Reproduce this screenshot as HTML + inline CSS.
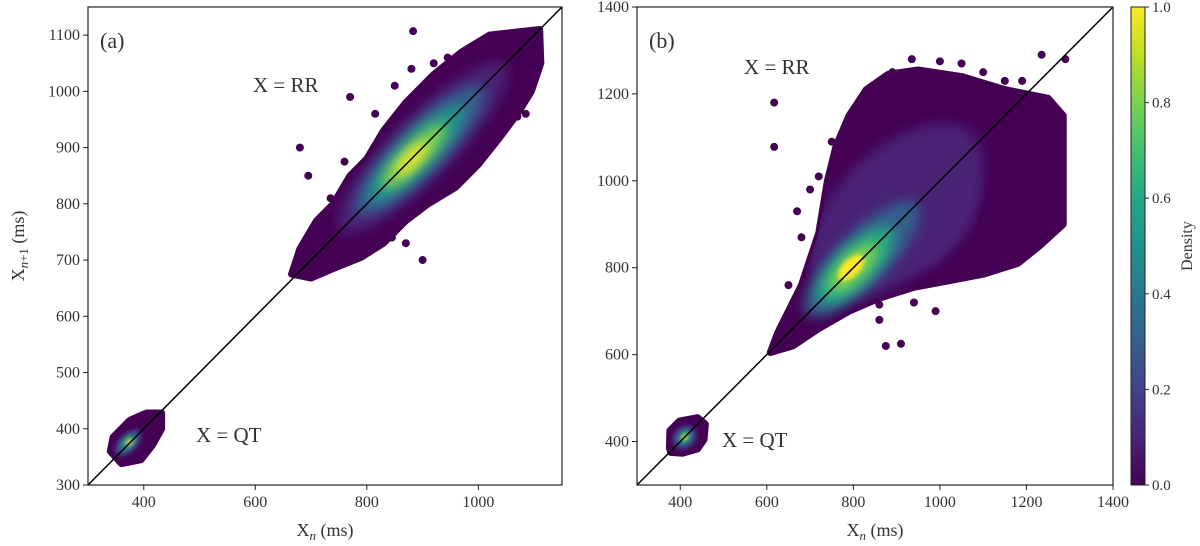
<!DOCTYPE html>
<html><head><meta charset="utf-8">
<style>
html,body{margin:0;padding:0;background:#fff;}
svg{display:block;font-family:"Liberation Serif",serif;}
</style></head>
<body>
<svg id="chart" width="1200" height="546" viewBox="0 0 1200 546">
<defs>
<filter id="blur" x="-50%" y="-50%" width="200%" height="200%"><feGaussianBlur stdDeviation="6"/></filter>
<filter id="blurS" x="-50%" y="-50%" width="200%" height="200%"><feGaussianBlur stdDeviation="2"/></filter>
<linearGradient id="viridis" x1="0" y1="1" x2="0" y2="0">
<stop offset="0" stop-color="#440154"/><stop offset="0.1" stop-color="#482475"/><stop offset="0.2" stop-color="#414487"/>
<stop offset="0.3" stop-color="#355f8d"/><stop offset="0.4" stop-color="#2a788e"/><stop offset="0.5" stop-color="#21918c"/>
<stop offset="0.6" stop-color="#22a884"/><stop offset="0.7" stop-color="#44bf70"/><stop offset="0.8" stop-color="#7ad151"/>
<stop offset="0.9" stop-color="#bddf26"/><stop offset="1" stop-color="#fde725"/>
</linearGradient>
<clipPath id="clipA"><rect x="88" y="7" width="474" height="478"/></clipPath>
<clipPath id="clipB"><rect x="637" y="7" width="476" height="478"/></clipPath>
</defs>
</svg>
<script>
// ---------- data ----------
const ticksA = [400, 600, 800, 1000];
const yticksA = [300, 400, 500, 600, 700, 800, 900, 1000, 1100];
const ticksBx = [400, 600, 800, 1000, 1200, 1400];
const ticksBy = [400, 600, 800, 1000, 1200, 1400];
const cbTicks = [0.0, 0.2, 0.4, 0.6, 0.8, 1.0];

// envelopes (outer low-density region) in data coords
const envRR_A = [[665,675],[680,720],[710,770],[740,800],[770,850],[800,880],[830,930],[870,980],[920,1030],[970,1070],[1020,1100],[1110,1110],[1112,1050],[1095,1000],[1070,960],[1040,920],[1000,870],[960,830],[910,800],[870,770],[830,730],[790,705],[740,685],[700,668]];
const envQT_A = [[340,360],[345,385],[375,415],[405,428],[432,428],[432,400],[415,370],[395,345],[360,338]];
const envRR_B = [[608,605],[625,650],[650,700],[680,760],[700,820],[720,880],[730,940],[740,1000],[760,1080],[790,1150],[830,1210],[880,1245],[950,1255],[1050,1240],[1150,1210],[1250,1190],[1285,1150],[1285,900],[1230,850],[1180,810],[1100,785],[1020,770],[940,755],[860,730],[790,700],[720,660],[660,620]];
const envQT_B = [[375,385],[376,425],[398,447],[440,455],[458,440],[455,405],[440,383],[405,373],[378,375]];

// density blobs: centre x, centre y, semi-axis along diagonal, semi-axis across, density level
const blobA_cx = [900, 895, 890, 885, 880, 372, 372, 374];
const blobA_cy = [900, 895, 890, 885, 880, 375, 375, 376];
const blobA_major = [210, 160, 120, 80, 40, 30, 18, 7];
const blobA_minor = [55, 42, 32, 22, 12, 16, 10, 5];
const blobA_level = [0.12, 0.3, 0.5, 0.75, 0.95, 0.2, 0.5, 1.0];

const blobB_cx = [900, 950, 820, 805, 800, 795, 410, 410, 410];
const blobB_cy = [930, 920, 820, 805, 800, 800, 410, 410, 410];
const blobB_major = [250, 160, 180, 120, 75, 38, 30, 18, 8];
const blobB_minor = [140, 110, 60, 45, 30, 20, 25, 14, 6];
const blobB_level = [0.06, 0.1, 0.3, 0.55, 0.8, 0.97, 0.15, 0.5, 1.0];

// outlier points
const outA_x = [883,770,680,695,760,815,850,880,920,945,970,1000,1040,1070,1085,740,790,845,960,1000,1020,870,900,735,715,800,990,1050,1100];
const outA_y = [1107,990,900,850,875,960,1010,1040,1050,1060,1060,1040,995,955,960,765,745,740,985,935,905,730,700,810,740,860,1080,1010,1090];
const outB_x = [617,617,670,650,700,730,760,795,860,875,910,935,1050,1100,1190,1235,1290,1270,1280,1260,1190,1130,1060,860,990,940,750,745,890,960,700,720,680,1000,1150];
const outB_y = [1180,1078,930,760,765,820,820,760,715,620,625,1280,1270,1250,1230,1290,1280,1150,1060,920,865,840,830,680,700,720,1090,990,1250,1210,980,1010,870,1275,1230];

// ---------- helpers ----------
const svg = document.getElementById('chart');
const defs = svg.querySelector('defs');
const NS = 'http://www.w3.org/2000/svg';
function mk(tag, attrs, parent) {
  const e = document.createElementNS(NS, tag);
  for (const k in attrs) e.setAttribute(k, attrs[k]);
  (parent || svg).appendChild(e);
  return e;
}
const vir = ['#440154','#482475','#414487','#355f8d','#2a788e','#21918c','#22a884','#44bf70','#7ad151','#bddf26','#fde725'];
function viridis(t) { const i = Math.max(0, Math.min(10, Math.round(t * 10))); return vir[i]; }

function makeAxis(x0, x1, y0, y1, d0, d1, e0, e1) {
  return { x: v => x0 + (v - d0) / (d1 - d0) * (x1 - x0), y: v => y0 - (v - e0) / (e1 - e0) * (y0 - y1), x0, x1, y0, y1, d0, d1, e0, e1 };
}
const A = makeAxis(88, 562, 485, 7, 300, 1150, 300, 1150);
const B = makeAxis(637, 1113, 485, 7, 300, 1400, 300, 1400);

function drawPanel(ax, clip, name, envs, bx, by, bmaj, bmin, blev, ox, oy, xt, yt, letter) {
  const g = mk('g', { 'clip-path': 'url(#' + clip + ')' });
  
  
  const cp = mk('clipPath', { id: name + '-env-clip' }, defs);
  envs.forEach((env, k) => {
    const pts = env.map(q => ax.x(q[0]) + ',' + ax.y(q[1])).join(' ');
    const p = mk('polygon', { points: pts, fill: '#440154', stroke: '#440154', 'stroke-width': 7, 'stroke-linejoin': 'round' }, g);
    
    
    mk('polygon', { points: pts }, cp);
  });
  ox.forEach((v, i) => {
    const c = mk('circle', { cx: ax.x(v), cy: ax.y(oy[i]), r: 4, fill: '#440154' }, g);
    
    
  });
  const bg = mk('g', { 'clip-path': 'url(#' + name + '-env-clip)' }, g);
  const sc = (ax.x1 - ax.x0) / (ax.d1 - ax.d0);
  bx.forEach((v, i) => {
    const small = bmaj[i] < 40;
    const e = mk('ellipse', { cx: ax.x(v), cy: ax.y(by[i]), rx: bmaj[i] * sc, ry: bmin[i] * sc, fill: viridis(blev[i]), transform: 'rotate(-45 ' + ax.x(v) + ' ' + ax.y(by[i]) + ')', filter: small ? 'url(#blurS)' : 'url(#blur)' }, bg);
    
    
  });
  const lo = Math.max(ax.d0, ax.e0), hi = Math.min(ax.d1, ax.e1);
  const dl = mk('line', { x1: ax.x(lo), y1: ax.y(lo), x2: ax.x(hi), y2: ax.y(hi), stroke: '#000', 'stroke-width': 1.5 });
  
  
  const fr = mk('rect', { x: ax.x0, y: ax.y1, width: ax.x1 - ax.x0, height: ax.y0 - ax.y1, fill: 'none', stroke: '#222', 'stroke-width': 1.2 });
  
  
  xt.forEach(v => {
    mk('line', { x1: ax.x(v), y1: ax.y0, x2: ax.x(v), y2: ax.y0 + 5, stroke: '#222' });
    const t = mk('text', { x: ax.x(v), y: ax.y0 + 22, 'text-anchor': 'middle', 'font-size': 16, fill: '#333' });
    t.textContent = v;
    
    
  });
  yt.forEach(v => {
    mk('line', { x1: ax.x0 - 5, y1: ax.y(v), x2: ax.x0, y2: ax.y(v), stroke: '#222' });
    const t = mk('text', { x: ax.x0 - 8, y: ax.y(v) + 5, 'text-anchor': 'end', 'font-size': 16, fill: '#333' });
    t.textContent = v;
    
    
  });
  const pl = mk('text', { x: ax.x0 + 12, y: 48, 'font-size': 22, fill: '#333' });
  pl.textContent = letter;
  
  
  const xl = mk('text', { x: (ax.x0 + ax.x1) / 2, y: 536, 'text-anchor': 'middle', 'font-size': 18, fill: '#333' });
  xl.innerHTML = 'X<tspan font-style="italic" font-size="13" dy="4">n</tspan><tspan dy="-4"> (ms)</tspan>';
  
  
}

drawPanel(A, 'clipA', 'panel-a', [envRR_A, envQT_A], blobA_cx, blobA_cy, blobA_major, blobA_minor, blobA_level, outA_x, outA_y, ticksA, yticksA, '(a)');
drawPanel(B, 'clipB', 'panel-b', [envRR_B, envQT_B], blobB_cx, blobB_cy, blobB_major, blobB_minor, blobB_level, outB_x, outB_y, ticksBx, ticksBy, '(b)');

function label(x, y, txt, nm) {
  const t = mk('text', { x, y, 'font-size': 21, fill: '#333' });
  t.textContent = txt;
  
  
}
label(253, 92, 'X = RR', 'panel-a-rr-label');
label(196, 442, 'X = QT', 'panel-a-qt-label');
label(744, 74, 'X = RR', 'panel-b-rr-label');
label(722, 447, 'X = QT', 'panel-b-qt-label');

const yl = mk('text', { x: 0, y: 0, 'text-anchor': 'middle', 'font-size': 18, fill: '#333', transform: 'translate(24 246) rotate(-90)' });
yl.innerHTML = 'X<tspan font-style="italic" font-size="13" dy="4">n</tspan><tspan font-size="13">+1</tspan><tspan dy="-4"> (ms)</tspan>';



// colorbar
const cbx = 1131, cbw = 14, cbTop = 7, cbBot = 485;
const cb = mk('rect', { x: cbx, y: cbTop, width: cbw, height: cbBot - cbTop, fill: 'url(#viridis)', stroke: '#222', 'stroke-width': 1 });


cbTicks.forEach(v => {
  const y = cbBot - v * (cbBot - cbTop);
  mk('line', { x1: cbx + cbw, y1: y, x2: cbx + cbw + 4, y2: y, stroke: '#222' });
  const t = mk('text', { x: cbx + cbw + 7, y: y + 5, 'font-size': 15, fill: '#333' });
  t.textContent = v.toFixed(1);
  
  
});
const cl = mk('text', { x: 0, y: 0, 'text-anchor': 'middle', 'font-size': 16, fill: '#333', transform: 'translate(1192 246) rotate(-90)' });
cl.textContent = 'Density';


</script>
</body></html>
